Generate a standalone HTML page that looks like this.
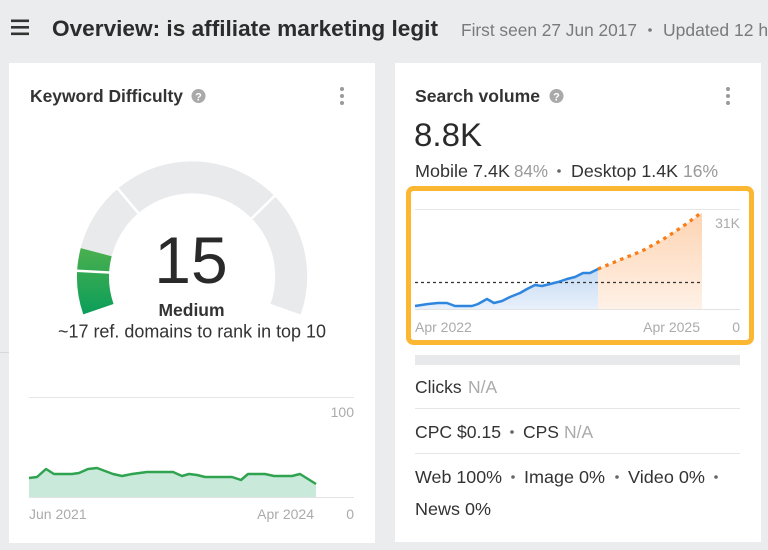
<!DOCTYPE html>
<html>
<head>
<meta charset="utf-8">
<style>
  html,body{margin:0;padding:0;background:#ebecee;}
  svg{display:block;}
  text{font-family:"Liberation Sans",Arial,Helvetica,sans-serif;}
</style>
</head>
<body>
<svg width="768" height="550" viewBox="0 0 768 550" xmlns="http://www.w3.org/2000/svg">
  <defs>
    <linearGradient id="gg" gradientUnits="userSpaceOnUse" x1="0" y1="247" x2="0" y2="314">
      <stop offset="0" stop-color="#4cb04e"/>
      <stop offset="1" stop-color="#0b9e5a"/>
    </linearGradient>
    <linearGradient id="bf" gradientUnits="userSpaceOnUse" x1="0" y1="268" x2="0" y2="309">
      <stop offset="0" stop-color="#c4daf3"/>
      <stop offset="1" stop-color="#e8f0fb"/>
    </linearGradient>
    <linearGradient id="of" gradientUnits="userSpaceOnUse" x1="0" y1="213" x2="0" y2="309">
      <stop offset="0" stop-color="#fdd4b3"/>
      <stop offset="1" stop-color="#fef1e6"/>
    </linearGradient>
  </defs>

  <rect x="0" y="0" width="768" height="550" fill="#ebecee"/>

  <!-- Header -->
  <rect x="11" y="19.5" width="18" height="2.6" fill="#333"/>
  <rect x="11" y="26" width="18" height="2.6" fill="#333"/>
  <rect x="11" y="32.5" width="18" height="2.6" fill="#333"/>
  <text x="52" y="36" font-size="22.5" font-weight="bold" fill="#2c2c2c" textLength="386" lengthAdjust="spacingAndGlyphs">Overview: is affiliate marketing legit</text>
  <text x="461" y="36" font-size="17.5" fill="#7a7a7a" textLength="176" lengthAdjust="spacingAndGlyphs">First seen 27 Jun 2017</text>
  <circle cx="650" cy="30" r="1.8" fill="#7a7a7a"/>
  <text x="663" y="36" font-size="17.5" fill="#7a7a7a">Updated 12 h</text>

  <!-- small left line -->
  <line x1="0" y1="352.5" x2="9" y2="352.5" stroke="#d9d9db" stroke-width="1"/>

  <!-- Left card -->
  <rect x="9" y="63" width="366" height="480" fill="#ffffff"/>
  <text x="30" y="102" font-size="17.5" font-weight="bold" fill="#333" textLength="153" lengthAdjust="spacingAndGlyphs">Keyword Difficulty</text>
  <circle cx="198.5" cy="96" r="7" fill="#a9a9a9"/>
  <text x="198.5" y="100.5" font-size="11" font-weight="bold" fill="#fff" text-anchor="middle">?</text>
  <circle cx="342" cy="89" r="2" fill="#9a9a9a"/>
  <circle cx="342" cy="96" r="2" fill="#9a9a9a"/>
  <circle cx="342" cy="103" r="2" fill="#9a9a9a"/>

  <!-- Gauge -->
  <path d="M96.2,252.2 A99,99 0 1 1 285.6,309.2" fill="none" stroke="#e9eaec" stroke-width="32"/>
  <path d="M98.4,309.2 A99,99 0 0 1 96.2,252.2" fill="none" stroke="url(#gg)" stroke-width="32"/>
  <line x1="139.3" y1="214.2" x2="114.5" y2="184.7" stroke="#fff" stroke-width="2.5"/>
  <line x1="250.5" y1="219.5" x2="277.5" y2="193" stroke="#fff" stroke-width="2.5"/>
  <line x1="114" y1="272.7" x2="72" y2="270.5" stroke="#fff" stroke-width="2.5"/>

  <text x="191" y="283" font-size="66" fill="#2a2a2a" text-anchor="middle">15</text>
  <text x="191.5" y="316" font-size="17.5" font-weight="bold" fill="#333" text-anchor="middle">Medium</text>
  <text x="192" y="337.5" font-size="18" fill="#333" text-anchor="middle" textLength="268" lengthAdjust="spacingAndGlyphs">~17 ref. domains to rank in top 10</text>

  <!-- KD history chart -->
  <line x1="29" y1="397.5" x2="354" y2="397.5" stroke="#e6e6e6" stroke-width="1"/>
  <text x="354" y="417" font-size="14" fill="#ababab" text-anchor="end">100</text>
  <path d="M29,497 L29,478 L37,477 L46,469 L54,474 L72,474 L79,473 L88,469 L97,468 L105,471 L113,474 L122,476 L132,474 L147,472 L173,472 L182,476 L189,474 L197,475 L205,477 L232,477 L241,480 L248,474 L265,474 L274,476 L292,476 L300,474 L308,479 L316,484 L316,497 Z" fill="#c9eadb"/>
  <polyline points="29,478 37,477 46,469 54,474 72,474 79,473 88,469 97,468 105,471 113,474 122,476 132,474 147,472 173,472 182,476 189,474 197,475 205,477 232,477 241,480 248,474 265,474 274,476 292,476 300,474 308,479 316,484" fill="none" stroke="#2fa34f" stroke-width="2.5" stroke-linejoin="round"/>
  <line x1="29" y1="497.5" x2="354" y2="497.5" stroke="#e3e3e3" stroke-width="1"/>
  <text x="29" y="519" font-size="14" fill="#ababab">Jun 2021</text>
  <text x="314" y="519" font-size="14" fill="#ababab" text-anchor="end">Apr 2024</text>
  <text x="354" y="519" font-size="14" fill="#ababab" text-anchor="end">0</text>

  <!-- Right card -->
  <rect x="395" y="63" width="366" height="479" fill="#ffffff"/>
  <text x="415" y="102" font-size="17.5" font-weight="bold" fill="#333" textLength="125" lengthAdjust="spacingAndGlyphs">Search volume</text>
  <circle cx="556.5" cy="96" r="7" fill="#a9a9a9"/>
  <text x="556.5" y="100.5" font-size="11" font-weight="bold" fill="#fff" text-anchor="middle">?</text>
  <circle cx="728" cy="89" r="2" fill="#9a9a9a"/>
  <circle cx="728" cy="96" r="2" fill="#9a9a9a"/>
  <circle cx="728" cy="103" r="2" fill="#9a9a9a"/>

  <text x="414" y="146" font-size="32" fill="#2a2a2a" textLength="68" lengthAdjust="spacingAndGlyphs">8.8K</text>

  <text x="415" y="177" font-size="17.5" fill="#333" textLength="95" lengthAdjust="spacingAndGlyphs">Mobile 7.4K</text>
  <text x="514" y="177" font-size="17.5" fill="#999" textLength="34" lengthAdjust="spacingAndGlyphs">84%</text>
  <circle cx="559" cy="171" r="1.8" fill="#666"/>
  <text x="571" y="177" font-size="17.5" fill="#333" textLength="107" lengthAdjust="spacingAndGlyphs">Desktop 1.4K</text>
  <text x="683" y="177" font-size="17.5" fill="#999" textLength="35" lengthAdjust="spacingAndGlyphs">16%</text>

  <!-- Search volume chart -->
  <line x1="415" y1="209.5" x2="740" y2="209.5" stroke="#e6e6e6" stroke-width="1"/>
  <text x="740" y="228" font-size="14" fill="#ababab" text-anchor="end">31K</text>
  <path d="M415,309 L415,306 L428,304 L438,303 L447,303 L455,306 L472,306 L478,304 L487,299 L494,303 L502,301 L510,297 L520,293 L527,289 L535,285 L542,286 L550,284 L558,282 L567,279 L575,277 L583,273 L590,273 L598,269 L598,309 Z" fill="url(#bf)"/>
  <path d="M598,309 L598,269 L622,259 L642,251 L662,240 L682,227 L702,213 L702,309 Z" fill="url(#of)"/>
  <line x1="415" y1="282.5" x2="703" y2="282.5" stroke="#333" stroke-width="1.2" stroke-dasharray="3 3"/>
  <polyline points="415,306 428,304 438,303 447,303 455,306 472,306 478,304 487,299 494,303 502,301 510,297 520,293 527,289 535,285 542,286 550,284 558,282 567,279 575,277 583,273 590,273 598,269" fill="none" stroke="#2f86de" stroke-width="2.5" stroke-linejoin="round"/>
  <polyline points="598,269 622,259 642,251 662,240 682,227 701,213" fill="none" stroke="#f97d17" stroke-width="3.3" stroke-dasharray="3.5 4.5"/>
  <line x1="415" y1="309.5" x2="740" y2="309.5" stroke="#e3e3e3" stroke-width="1"/>
  <text x="415" y="332" font-size="14" fill="#ababab">Apr 2022</text>
  <text x="700" y="332" font-size="14" fill="#ababab" text-anchor="end">Apr 2025</text>
  <text x="740" y="332" font-size="14" fill="#ababab" text-anchor="end">0</text>

  <!-- Highlight box -->
  <rect x="408.5" y="188.5" width="343" height="154" rx="5" ry="5" fill="none" stroke="#fbb632" stroke-width="5"/>

  <!-- Metrics -->
  <rect x="415" y="355" width="325" height="10" fill="#e8e9eb"/>
  <text x="415" y="393" font-size="17.5" fill="#333">Clicks</text>
  <text x="468" y="393" font-size="17.5" fill="#aaa">N/A</text>
  <line x1="415" y1="408.5" x2="740" y2="408.5" stroke="#e6e6e6" stroke-width="1"/>
  <text x="415" y="438" font-size="17.5" fill="#333" textLength="86" lengthAdjust="spacingAndGlyphs">CPC $0.15</text>
  <circle cx="512" cy="432" r="1.8" fill="#666"/>
  <text x="523" y="438" font-size="17.5" fill="#333">CPS</text>
  <text x="564" y="438" font-size="17.5" fill="#aaa">N/A</text>
  <line x1="415" y1="453.5" x2="740" y2="453.5" stroke="#e6e6e6" stroke-width="1"/>
  <text x="415" y="483" font-size="17.5" fill="#333" textLength="87" lengthAdjust="spacingAndGlyphs">Web 100%</text>
  <circle cx="513" cy="477" r="1.8" fill="#666"/>
  <text x="524" y="483" font-size="17.5" fill="#333" textLength="81" lengthAdjust="spacingAndGlyphs">Image 0%</text>
  <circle cx="617" cy="477" r="1.8" fill="#666"/>
  <text x="628" y="483" font-size="17.5" fill="#333" textLength="77" lengthAdjust="spacingAndGlyphs">Video 0%</text>
  <circle cx="716" cy="477" r="1.8" fill="#666"/>
  <text x="415" y="515" font-size="17.5" fill="#333" textLength="76" lengthAdjust="spacingAndGlyphs">News 0%</text>
</svg>
</body>
</html>
